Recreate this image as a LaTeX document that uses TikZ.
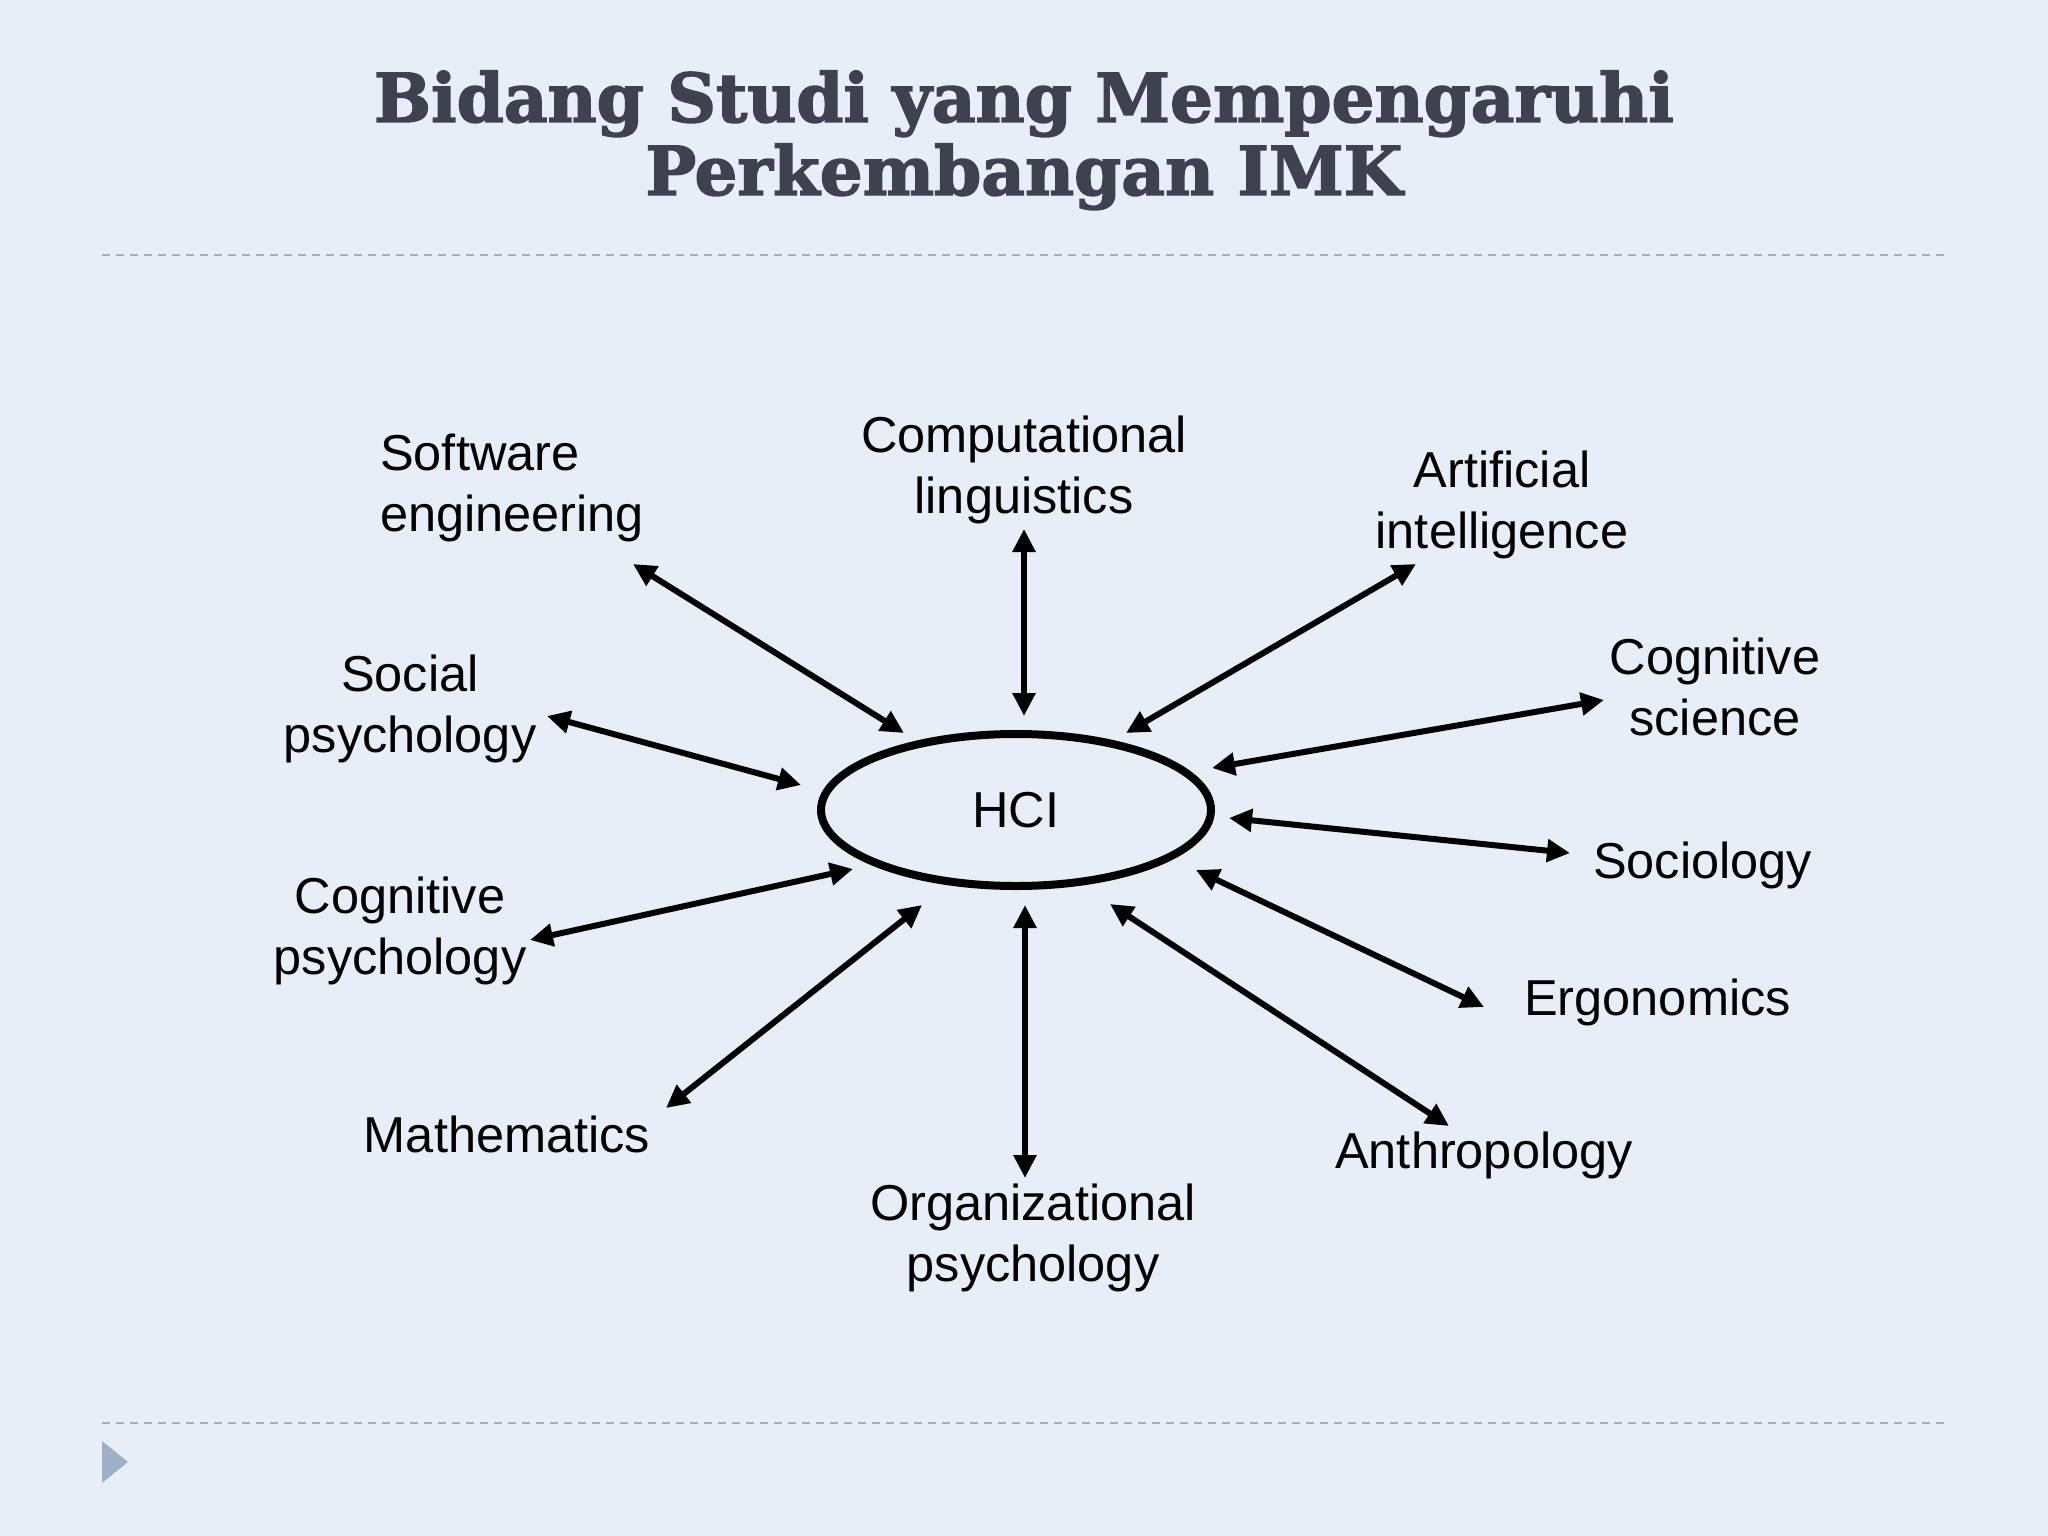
\documentclass[tikz,border=0pt]{standalone}
\usepackage{fontspec}
\setmainfont{Liberation Sans}
\newfontfamily\titlefont[FakeBold=2.2]{DejaVu Serif}
\usetikzlibrary{shapes.geometric,arrows.meta}
\definecolor{bgcol}{RGB}{232,238,247}
\definecolor{titlecol}{RGB}{64,65,80}
\definecolor{dashcol}{RGB}{165,175,190}
\definecolor{tricol}{RGB}{158,176,198}
\newcommand{\lblfont}{\fontsize{50.5pt}{61pt}\selectfont}
\tikzset{
  lbl/.style={font=\lblfont, align=center, inner sep=0pt, anchor=north},
  lbll/.style={font=\lblfont, align=left, inner sep=0pt, anchor=north west},
  ttl/.style={font=\titlefont\bfseries\fontsize{67.5pt}{73pt}\selectfont, text=titlecol, inner sep=0pt, anchor=base},
  arr/.style={line width=6pt, {Triangle[length=23pt,width=22pt]}-{Triangle[length=23pt,width=22pt]}},
  sep/.style={draw=dashcol, line width=2pt, dash pattern=on 8pt off 6pt},
}
\begin{document}
\begin{tikzpicture}[x=1pt,y=-1pt]
\useasboundingbox (0,0) rectangle (2048,1536);
\fill[bgcol] (0,0) rectangle (2048,1536);
% title
\node[ttl] (t1) at (1024,122) {Bidang Studi yang Mempengaruhi};
\node[ttl] (t2) at (1024,195) {Perkembangan IMK};
% separators
\coordinate (d1a) at (102,255); \coordinate (d1b) at (1946,255);
\coordinate (d2a) at (102,1423); \coordinate (d2b) at (1946,1423);
\draw[sep] (d1a) -- (d1b);
\draw[sep] (d2a) -- (d2b);
\fill[tricol] (102,1441) -- (128,1462) -- (102,1483) -- cycle;
% centre
\node[ellipse, draw, line width=8pt, minimum width=390pt, minimum height=152pt, inner sep=0pt, font=\lblfont] (hci) at (1016,810) {HCI};
% labels
\node[lbll] (sw) at (380,427.3) {\strut Software\\\strut engineering};
\node[lbl] (cl) at (1024,409.3) {\strut Computational\\\strut linguistics};
\node[lbl] (ai) at (1502,444.3) {\strut Artificial\\\strut intelligence};
\node[lbl] (cs) at (1715,631.3) {\strut Cognitive\\\strut science};
\node[lbll] (so) at (1593,835.3) {\strut Sociology};
\node[lbll] (er) at (1524,972.3) {\strut Ergonomics};
\node[lbl] (an) at (1484,1125.3) {\strut Anthropology};
\node[lbl] (og) at (1033,1177.3) {\strut Organizational\\\strut psychology};
\node[lbl] (ma) at (507,1109.3) {\strut Mathematics};
\node[lbl] (cp) at (400,870.3) {\strut Cognitive\\\strut psychology};
\node[lbl] (sp) at (410,648.3) {\strut Social\\\strut psychology};
% arrow end points
\coordinate (swA) at (633,564);  \coordinate (swB) at (904,733);
\coordinate (clA) at (1024,529); \coordinate (clB) at (1024,716);
\coordinate (aiA) at (1416,564); \coordinate (aiB) at (1126,733);
\coordinate (csA) at (1604,700); \coordinate (csB) at (1212,768);
\coordinate (soA) at (1570,853); \coordinate (soB) at (1229,818);
\coordinate (erA) at (1484,1007); \coordinate (erB) at (1196,870);
\coordinate (anA) at (1449,1126); \coordinate (anB) at (1110,904);
\coordinate (ogA) at (1025,1178); \coordinate (ogB) at (1025,905);
\coordinate (maA) at (666,1108); \coordinate (maB) at (922,905);
\coordinate (cpA) at (530,940);  \coordinate (cpB) at (853,869);
\coordinate (spA) at (547,716);  \coordinate (spB) at (801,785);
\draw[arr] (swA) -- (swB);
\draw[arr] (clA) -- (clB);
\draw[arr] (aiA) -- (aiB);
\draw[arr] (csA) -- (csB);
\draw[arr] (soA) -- (soB);
\draw[arr] (erA) -- (erB);
\draw[arr] (anA) -- (anB);
\draw[arr] (ogA) -- (ogB);
\draw[arr] (maA) -- (maB);
\draw[arr] (cpA) -- (cpB);
\draw[arr] (spA) -- (spB);
\end{tikzpicture}
\end{document}
